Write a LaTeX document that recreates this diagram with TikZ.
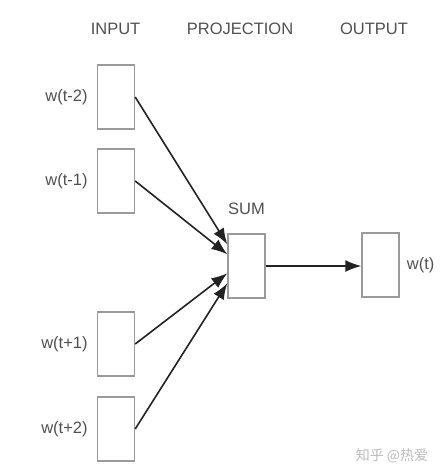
\documentclass[tikz,border=0pt]{standalone}
\usepackage{fontspec}
\setmainfont{Liberation Sans}
\newfontfamily\cjk{Noto Sans CJK SC}
\usetikzlibrary{arrows.meta,positioning,calc}
\definecolor{boxgray}{HTML}{9A9A9A}
\definecolor{textgray}{HTML}{505050}
\definecolor{arrowgray}{HTML}{222222}
\definecolor{markgray}{HTML}{BBBBBB}
\tikzset{
  wordbox/.style={draw=boxgray,line width=1.4pt,minimum width=37pt,minimum height=64pt,inner sep=0pt},
  lbl/.style={text=textgray,font=\fontsize{16.5}{18}\selectfont,inner sep=0pt},
  conn/.style={draw=arrowgray,line width=1.6pt,-{Latex[length=16pt,width=12pt]}}
}
\begin{document}
\begin{tikzpicture}[x=1pt,y=-1pt]
  \useasboundingbox (0,0) rectangle (440,476);
  % column heads
  \node[lbl] (hin)   at (115.5,29) {INPUT};
  \node[lbl] (hproj) at (240,29)   {PROJECTION};
  \node[lbl] (hout)  at (374,29)   {OUTPUT};
  % input words
  \node[wordbox] (in1) at (116,97)  {};
  \node[wordbox] (in2) at (116,181) {};
  \node[wordbox] (in3) at (116,344) {};
  \node[wordbox] (in4) at (116,429) {};
  \node[lbl,left=9pt of in1] (l1) {w(t-2)};
  \node[lbl,left=9pt of in2] (l2) {w(t-1)};
  \node[lbl,left=9pt of in3] (l3) {w(t+1)};
  \node[lbl,left=9pt of in4] (l4) {w(t+2)};
  % projection and output
  \node[wordbox] (sum) at (246.5,266) {};
  \node[lbl,above=18pt of sum] (lsum) {SUM};
  \node[wordbox] (out) at (380.5,265) {};
  \node[lbl,right=7pt of out] (lout) {w(t)};
  % arrow ends on the SUM box
  \coordinate (e1) at ($(sum.north west)+(0,11)$);
  \coordinate (e2) at ($(sum.north west)+(0,21)$);
  \coordinate (e3) at ($(sum.north west)+(0,40)$);
  \coordinate (e4) at ($(sum.north west)+(0,50)$);
  \draw[conn] (in1.east) -- (e1);
  \draw[conn] (in2.east) -- (e2);
  \draw[conn] (in3.east) -- (e3);
  \draw[conn] (in4.east) -- (e4);
  \draw[conn] (sum.east) -- (sum.east -| out.west);
  % watermark
  \node[text=markgray,font=\cjk\fontsize{14}{16}\selectfont,inner sep=0pt] (mark) at (392,456) {知乎 @热爱};
\end{tikzpicture}
\end{document}
